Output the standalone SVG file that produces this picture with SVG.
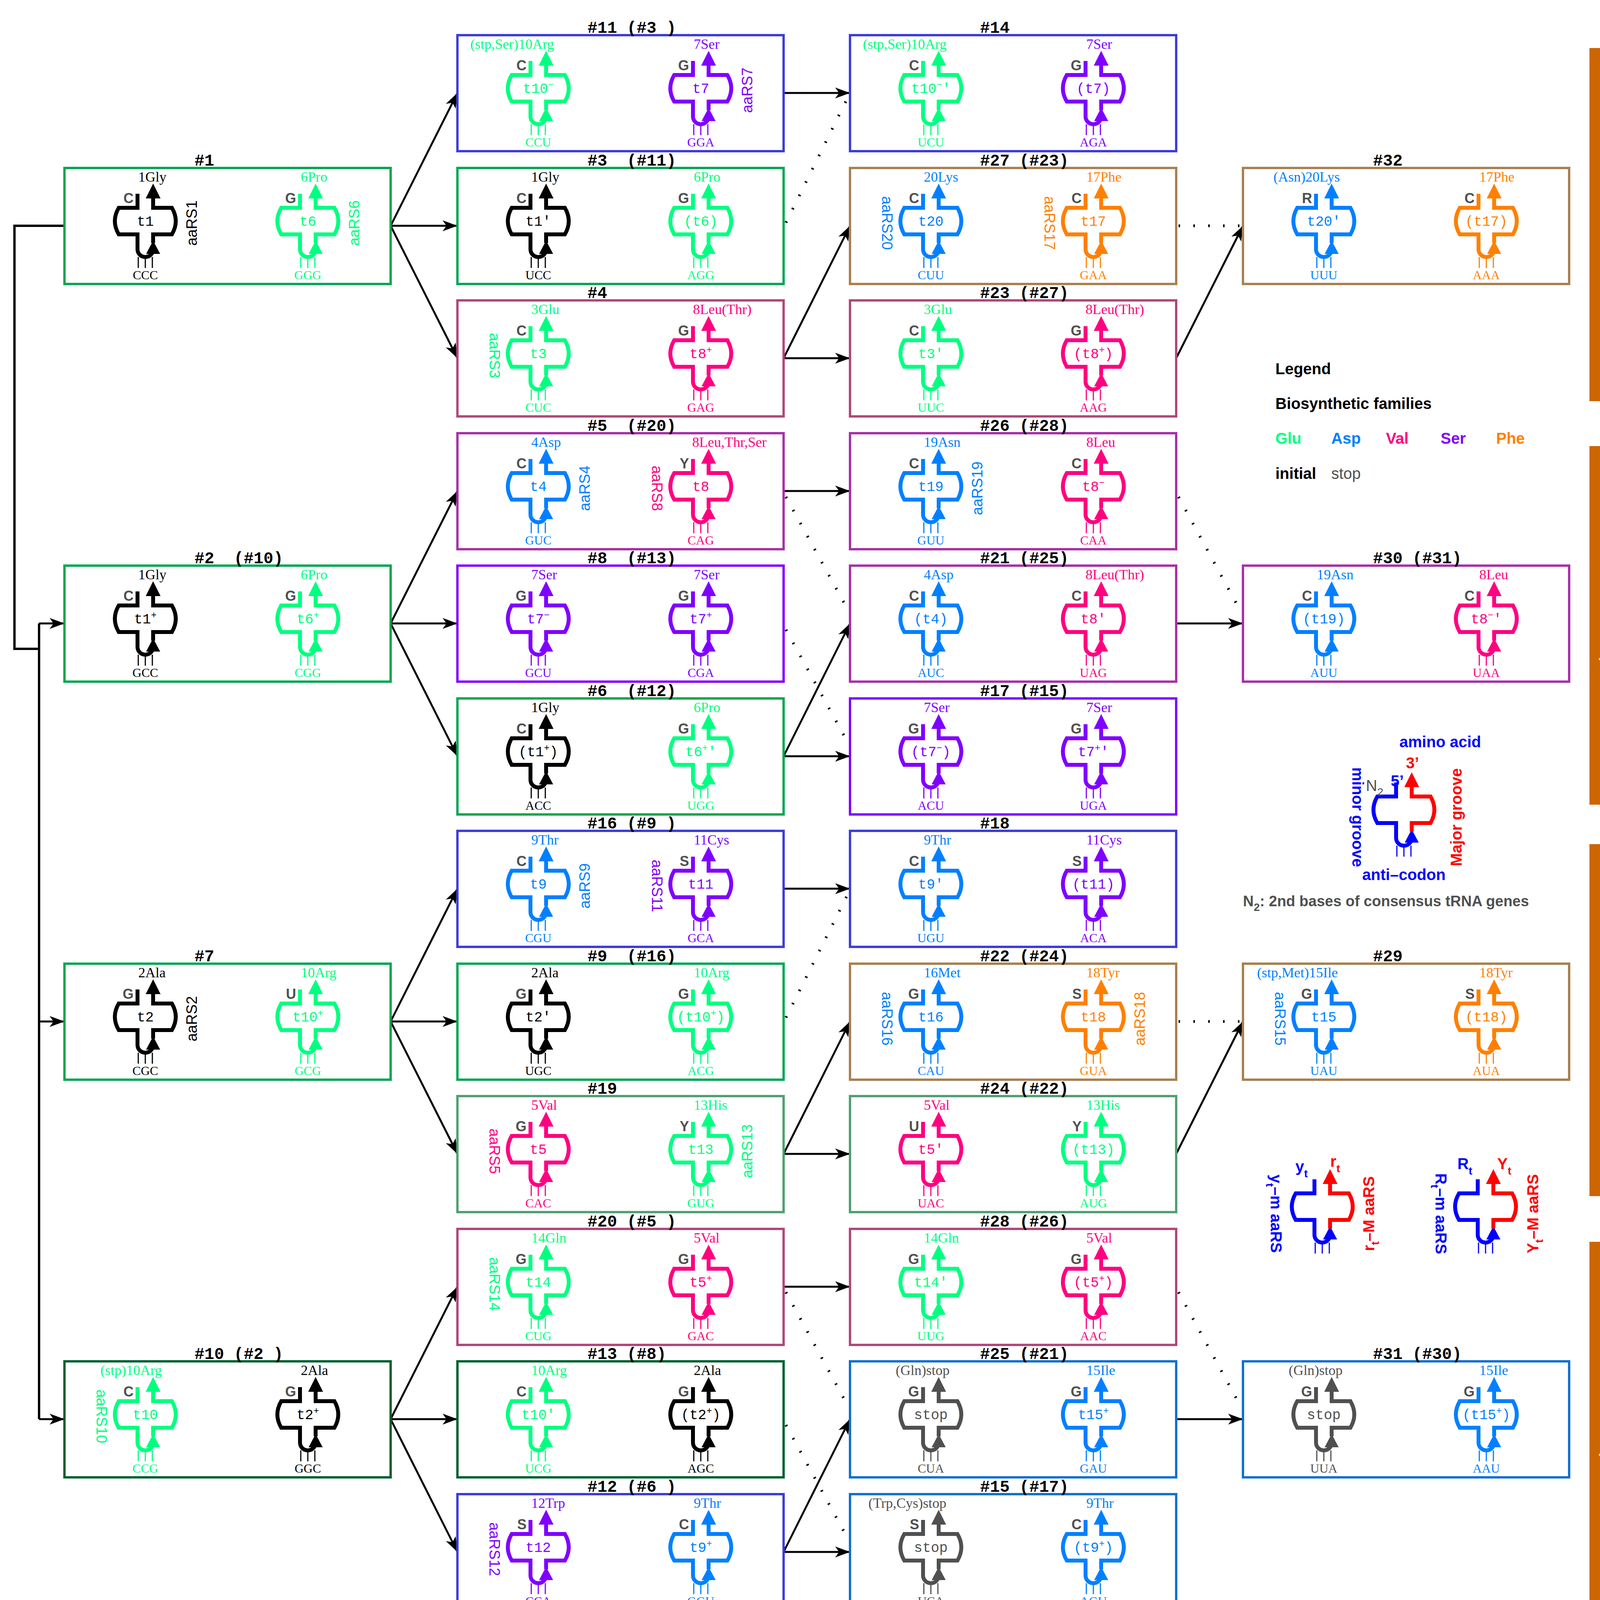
<svg xmlns="http://www.w3.org/2000/svg" xmlns:xlink="http://www.w3.org/1999/xlink" width="4201" height="4386" viewBox="0 0 4201 4386">
<style>
.bx{fill:none;stroke-width:6}
.ti{font-family:"Liberation Mono","DejaVu Sans Mono",monospace;font-weight:bold;font-size:42px;white-space:pre;fill:#000}
.aa{font-family:"Liberation Serif",serif;font-size:36px}
.n2{font-family:"Liberation Sans",sans-serif;font-weight:bold;font-size:36px;fill:#505050;text-anchor:end}
.tl{font-family:"Liberation Mono","DejaVu Sans Mono",monospace;font-size:36px;text-anchor:middle}
.sp{font-size:24px}
.cd{font-family:"Liberation Serif",serif;font-size:32px;text-anchor:middle}
.rs{font-family:"Liberation Sans",sans-serif;font-size:38px;text-anchor:middle}
.K{fill:#000;color:#000}.G{fill:#00ff80;color:#00ff80}.B{fill:#0080ff;color:#0080ff}.V{fill:#8000ff;color:#8000ff}.P{fill:#ff0080;color:#ff0080}.O{fill:#ff8000;color:#ff8000}.S{fill:#505050;color:#505050}
.cn line,.cn path{stroke:#000;stroke-width:5;fill:none}
.cn .a{marker-end:url(#ah)}
.cn .d{stroke-width:7;stroke-dasharray:4 34}
.lg{font-family:"Liberation Sans",sans-serif;font-weight:bold;font-size:40px}
.bar{font-family:"Liberation Sans",sans-serif;font-weight:bold;font-size:56px;fill:#fff;text-anchor:middle}
</style>
<defs>
<marker id="ah" markerUnits="userSpaceOnUse" markerWidth="50" markerHeight="40" refX="40" refY="20" orient="auto" viewBox="0 0 50 40"><path d="M40,20 L2,6 L12,20 L2,34 Z" fill="#000"/></marker>
<g id="gL"><path d="M-20,66 V102 H-68 Q-88,136 -68,170 H-20 V208 A20,20 0 0 0 20,208 V196" fill="none" stroke="currentColor" stroke-width="10"/><polygon points="20,186 2,220 38,220" fill="currentColor"/><path d="M-18,228V256 M0,230V256 M18,228V256" stroke="currentColor" stroke-width="3"/></g>
<g id="gR"><path d="M20,76 V102 H68 Q88,136 68,170 H20 V192" fill="none" stroke="currentColor" stroke-width="10"/><polygon points="20,40 1,78 39,78" fill="currentColor"/></g>
<g id="tr"><use href="#gL"/><use href="#gR"/></g>
</defs>
<rect width="4201" height="4386" fill="#fff"/>

<g class="cn" id="connectors">
<path d="M165,578 H37 V1661 H100" style="stroke-width:6"/>
<path d="M100,1596 V3633" style="stroke-width:6"/>
<line class="a" x1="100" y1="1596" x2="165" y2="1596"/><line class="a" x1="100" y1="2615" x2="165" y2="2615"/><line class="a" x1="100" y1="3633" x2="165" y2="3633"/>
<line class="a" x1="1000" y1="578" x2="1171" y2="238"/><line class="a" x1="1000" y1="578" x2="1171" y2="578"/><line class="a" x1="1000" y1="578" x2="1171" y2="917"/>
<line class="a" x1="1000" y1="1596" x2="1171" y2="1257"/><line class="a" x1="1000" y1="1596" x2="1171" y2="1596"/><line class="a" x1="1000" y1="1596" x2="1171" y2="1936"/>
<line class="a" x1="1000" y1="2615" x2="1171" y2="2275"/><line class="a" x1="1000" y1="2615" x2="1171" y2="2615"/><line class="a" x1="1000" y1="2615" x2="1171" y2="2954"/>
<line class="a" x1="1000" y1="3633" x2="1171" y2="3294"/><line class="a" x1="1000" y1="3633" x2="1171" y2="3633"/><line class="a" x1="1000" y1="3633" x2="1171" y2="3973"/>
<line class="a" x1="2006" y1="238" x2="2176" y2="238"/><line class="a" x1="2006" y1="917" x2="2176" y2="578"/><line class="a" x1="2006" y1="917" x2="2176" y2="917"/>
<line class="a" x1="2006" y1="1257" x2="2176" y2="1257"/><line class="a" x1="2006" y1="1936" x2="2176" y2="1596"/><line class="a" x1="2006" y1="1936" x2="2176" y2="1936"/>
<line class="a" x1="2006" y1="2275" x2="2176" y2="2275"/><line class="a" x1="2006" y1="2954" x2="2176" y2="2615"/><line class="a" x1="2006" y1="2954" x2="2176" y2="2954"/>
<line class="a" x1="2006" y1="3294" x2="2176" y2="3294"/><line class="a" x1="2006" y1="3973" x2="2176" y2="3633"/><line class="a" x1="2006" y1="3973" x2="2176" y2="3973"/>
<line class="d" x1="2012" y1="570" x2="2170" y2="250"/><line class="d" x1="2012" y1="1272" x2="2170" y2="1560"/><line class="d" x1="2012" y1="1612" x2="2170" y2="1900"/>
<line class="d" x1="2012" y1="2605" x2="2170" y2="2290"/><line class="d" x1="2012" y1="3308" x2="2170" y2="3598"/><line class="d" x1="2012" y1="3648" x2="2170" y2="3938"/>
<line class="a" x1="3011" y1="917" x2="3182" y2="578"/><line class="a" x1="3011" y1="1596" x2="3182" y2="1596"/><line class="a" x1="3011" y1="2954" x2="3182" y2="2615"/><line class="a" x1="3011" y1="3633" x2="3182" y2="3633"/>
<line class="d" x1="3017" y1="578" x2="3176" y2="578"/><line class="d" x1="3017" y1="1272" x2="3176" y2="1565"/><line class="d" x1="3017" y1="2615" x2="3176" y2="2615"/><line class="d" x1="3017" y1="3308" x2="3176" y2="3600"/>
</g>

<!-- Column 1 -->
<g id="n1" transform="translate(165,430)"><rect class="bx" width="835" height="297" stroke="#00a650"/><text class="ti" x="333" y="-6">#1</text>
<g class="K" transform="translate(207,0)"><use href="#tr"/><text class="aa" x="-18" y="35">1Gly</text><text class="n2" x="-30" y="90">C</text><text class="tl" y="148">t1</text><text class="cd" y="285">CCC</text><text class="rs" transform="translate(132,141) rotate(-90)">aaRS1</text></g>
<g class="G" transform="translate(623,0)"><use href="#tr"/><text class="aa" x="-18" y="35">6Pro</text><text class="n2" x="-30" y="90">G</text><text class="tl" y="148">t6</text><text class="cd" y="285">GGG</text><text class="rs" transform="translate(132,141) rotate(-90)">aaRS6</text></g></g>

<g id="n2" transform="translate(165,1448)"><rect class="bx" width="835" height="297" stroke="#00a650"/><text class="ti" x="333" y="-6">#2  (#10)</text>
<g class="K" transform="translate(207,0)"><use href="#tr"/><text class="aa" x="-18" y="35">1Gly</text><text class="n2" x="-30" y="90">C</text><text class="tl" y="148">t1<tspan class="sp" dy="-14">+</tspan></text><text class="cd" y="285">GCC</text></g>
<g class="G" transform="translate(623,0)"><use href="#tr"/><text class="aa" x="-18" y="35">6Pro</text><text class="n2" x="-30" y="90">G</text><text class="tl" y="148">t6<tspan class="sp" dy="-14">+</tspan></text><text class="cd" y="285">CGG</text></g></g>

<g id="n7" transform="translate(165,2467)"><rect class="bx" width="835" height="297" stroke="#00a650"/><text class="ti" x="333" y="-6">#7</text>
<g class="K" transform="translate(207,0)"><use href="#tr"/><text class="aa" x="-18" y="35">2Ala</text><text class="n2" x="-30" y="90">G</text><text class="tl" y="148">t2</text><text class="cd" y="285">CGC</text><text class="rs" transform="translate(132,141) rotate(-90)">aaRS2</text></g>
<g class="G" transform="translate(623,0)"><use href="#tr"/><text class="aa" x="-18" y="35">10Arg</text><text class="n2" x="-30" y="90">U</text><text class="tl" y="148">t10<tspan class="sp" dy="-14">+</tspan></text><text class="cd" y="285">GCG</text></g></g>

<g id="n10" transform="translate(165,3485)"><rect class="bx" width="835" height="297" stroke="#006030"/><text class="ti" x="333" y="-6">#10 (#2 )</text>
<g class="G" transform="translate(207,0)"><use href="#tr"/><text class="aa" x="-115" y="35">(stp)10Arg</text><text class="n2" x="-30" y="90">C</text><text class="tl" y="148">t10</text><text class="cd" y="285">CCG</text><text class="rs" transform="translate(-125,141) rotate(90)">aaRS10</text></g>
<g class="K" transform="translate(623,0)"><use href="#tr"/><text class="aa" x="-18" y="35">2Ala</text><text class="n2" x="-30" y="90">G</text><text class="tl" y="148">t2<tspan class="sp" dy="-14">+</tspan></text><text class="cd" y="285">GGC</text></g></g>

<!-- Column 2 -->
<g id="n11" transform="translate(1171,90)"><rect class="bx" width="835" height="297" stroke="#3c3cdc"/><text class="ti" x="333" y="-6">#11 (#3 )</text>
<g class="G" transform="translate(207,0)"><use href="#tr"/><text class="aa" x="-174" y="35">(stp,Ser)10Arg</text><text class="n2" x="-30" y="90">C</text><text class="tl" y="148">t10<tspan class="sp" dy="-14">−</tspan></text><text class="cd" y="285">CCU</text></g>
<g class="V" transform="translate(623,0)"><use href="#tr"/><text class="aa" x="-18" y="35">7Ser</text><text class="n2" x="-30" y="90">G</text><text class="tl" y="148">t7</text><text class="cd" y="285">GGA</text><text class="rs" transform="translate(132,141) rotate(-90)">aaRS7</text></g></g>

<g id="n3" transform="translate(1171,430)"><rect class="bx" width="835" height="297" stroke="#00a650"/><text class="ti" x="333" y="-6">#3  (#11)</text>
<g class="K" transform="translate(207,0)"><use href="#tr"/><text class="aa" x="-18" y="35">1Gly</text><text class="n2" x="-30" y="90">C</text><text class="tl" y="148">t1′</text><text class="cd" y="285">UCC</text></g>
<g class="G" transform="translate(623,0)"><use href="#tr"/><text class="aa" x="-18" y="35">6Pro</text><text class="n2" x="-30" y="90">G</text><text class="tl" y="148">(t6)</text><text class="cd" y="285">AGG</text></g></g>

<g id="n4" transform="translate(1171,769)"><rect class="bx" width="835" height="297" stroke="#b04878"/><text class="ti" x="333" y="-6">#4</text>
<g class="G" transform="translate(207,0)"><use href="#tr"/><text class="aa" x="-18" y="35">3Glu</text><text class="n2" x="-30" y="90">C</text><text class="tl" y="148">t3</text><text class="cd" y="285">CUC</text><text class="rs" transform="translate(-125,141) rotate(90)">aaRS3</text></g>
<g class="P" transform="translate(623,0)"><use href="#tr"/><text class="aa" x="-20" y="35">8Leu(Thr)</text><text class="n2" x="-30" y="90">G</text><text class="tl" y="148">t8<tspan class="sp" dy="-14">+</tspan></text><text class="cd" y="285">GAG</text></g></g>

<g id="n5" transform="translate(1171,1109)"><rect class="bx" width="835" height="297" stroke="#a830a8"/><text class="ti" x="333" y="-6">#5  (#20)</text>
<g class="B" transform="translate(207,0)"><use href="#tr"/><text class="aa" x="-18" y="35">4Asp</text><text class="n2" x="-30" y="90">C</text><text class="tl" y="148">t4</text><text class="cd" y="285">GUC</text><text class="rs" transform="translate(132,141) rotate(-90)">aaRS4</text></g>
<g class="P" transform="translate(623,0)"><use href="#tr"/><text class="aa" x="-22" y="35">8Leu,Thr,Ser</text><text class="n2" x="-30" y="90">Y</text><text class="tl" y="148">t8</text><text class="cd" y="285">CAG</text><text class="rs" transform="translate(-125,141) rotate(90)">aaRS8</text></g></g>

<g id="n8" transform="translate(1171,1448)"><rect class="bx" width="835" height="297" stroke="#8000ff"/><text class="ti" x="333" y="-6">#8  (#13)</text>
<g class="V" transform="translate(207,0)"><use href="#tr"/><text class="aa" x="-18" y="35">7Ser</text><text class="n2" x="-30" y="90">G</text><text class="tl" y="148">t7<tspan class="sp" dy="-14">−</tspan></text><text class="cd" y="285">GCU</text></g>
<g class="V" transform="translate(623,0)"><use href="#tr"/><text class="aa" x="-18" y="35">7Ser</text><text class="n2" x="-30" y="90">G</text><text class="tl" y="148">t7<tspan class="sp" dy="-14">+</tspan></text><text class="cd" y="285">CGA</text></g></g>

<g id="n6" transform="translate(1171,1788)"><rect class="bx" width="835" height="297" stroke="#00a650"/><text class="ti" x="333" y="-6">#6  (#12)</text>
<g class="K" transform="translate(207,0)"><use href="#tr"/><text class="aa" x="-18" y="35">1Gly</text><text class="n2" x="-30" y="90">C</text><text class="tl" y="148">(t1<tspan class="sp" dy="-14">+</tspan><tspan dy="14">)</tspan></text><text class="cd" y="285">ACC</text></g>
<g class="G" transform="translate(623,0)"><use href="#tr"/><text class="aa" x="-18" y="35">6Pro</text><text class="n2" x="-30" y="90">G</text><text class="tl" y="148">t6<tspan class="sp" dy="-14">+</tspan><tspan dy="14">′</tspan></text><text class="cd" y="285">UGG</text></g></g>

<g id="n16" transform="translate(1171,2127)"><rect class="bx" width="835" height="297" stroke="#3c3cdc"/><text class="ti" x="333" y="-6">#16 (#9 )</text>
<g class="B" transform="translate(207,0)"><use href="#tr"/><text class="aa" x="-18" y="35">9Thr</text><text class="n2" x="-30" y="90">C</text><text class="tl" y="148">t9</text><text class="cd" y="285">CGU</text><text class="rs" transform="translate(132,141) rotate(-90)">aaRS9</text></g>
<g class="V" transform="translate(623,0)"><use href="#tr"/><text class="aa" x="-18" y="35">11Cys</text><text class="n2" x="-30" y="90">S</text><text class="tl" y="148">t11</text><text class="cd" y="285">GCA</text><text class="rs" transform="translate(-125,141) rotate(90)">aaRS11</text></g></g>

<g id="n9" transform="translate(1171,2467)"><rect class="bx" width="835" height="297" stroke="#00a650"/><text class="ti" x="333" y="-6">#9  (#16)</text>
<g class="K" transform="translate(207,0)"><use href="#tr"/><text class="aa" x="-18" y="35">2Ala</text><text class="n2" x="-30" y="90">G</text><text class="tl" y="148">t2′</text><text class="cd" y="285">UGC</text></g>
<g class="G" transform="translate(623,0)"><use href="#tr"/><text class="aa" x="-18" y="35">10Arg</text><text class="n2" x="-30" y="90">G</text><text class="tl" y="148">(t10<tspan class="sp" dy="-14">+</tspan><tspan dy="14">)</tspan></text><text class="cd" y="285">ACG</text></g></g>

<g id="n19" transform="translate(1171,2806)"><rect class="bx" width="835" height="297" stroke="#50a070"/><text class="ti" x="333" y="-6">#19</text>
<g class="P" transform="translate(207,0)"><use href="#tr"/><text class="aa" x="-18" y="35">5Val</text><text class="n2" x="-30" y="90">G</text><text class="tl" y="148">t5</text><text class="cd" y="285">CAC</text><text class="rs" transform="translate(-125,141) rotate(90)">aaRS5</text></g>
<g class="G" transform="translate(623,0)"><use href="#tr"/><text class="aa" x="-18" y="35">13His</text><text class="n2" x="-30" y="90">Y</text><text class="tl" y="148">t13</text><text class="cd" y="285">GUG</text><text class="rs" transform="translate(132,141) rotate(-90)">aaRS13</text></g></g>

<g id="n20" transform="translate(1171,3146)"><rect class="bx" width="835" height="297" stroke="#b04878"/><text class="ti" x="333" y="-6">#20 (#5 )</text>
<g class="G" transform="translate(207,0)"><use href="#tr"/><text class="aa" x="-18" y="35">14Gln</text><text class="n2" x="-30" y="90">G</text><text class="tl" y="148">t14</text><text class="cd" y="285">CUG</text><text class="rs" transform="translate(-125,141) rotate(90)">aaRS14</text></g>
<g class="P" transform="translate(623,0)"><use href="#tr"/><text class="aa" x="-18" y="35">5Val</text><text class="n2" x="-30" y="90">G</text><text class="tl" y="148">t5<tspan class="sp" dy="-14">+</tspan></text><text class="cd" y="285">GAC</text></g></g>

<g id="n13" transform="translate(1171,3485)"><rect class="bx" width="835" height="297" stroke="#006030"/><text class="ti" x="333" y="-6">#13 (#8)</text>
<g class="G" transform="translate(207,0)"><use href="#tr"/><text class="aa" x="-18" y="35">10Arg</text><text class="n2" x="-30" y="90">C</text><text class="tl" y="148">t10′</text><text class="cd" y="285">UCG</text></g>
<g class="K" transform="translate(623,0)"><use href="#tr"/><text class="aa" x="-18" y="35">2Ala</text><text class="n2" x="-30" y="90">G</text><text class="tl" y="148">(t2<tspan class="sp" dy="-14">+</tspan><tspan dy="14">)</tspan></text><text class="cd" y="285">AGC</text></g></g>

<g id="n12" transform="translate(1171,3825)"><rect class="bx" width="835" height="297" stroke="#3c3cdc"/><text class="ti" x="333" y="-6">#12 (#6 )</text>
<g class="V" transform="translate(207,0)"><use href="#tr"/><text class="aa" x="-18" y="35">12Trp</text><text class="n2" x="-30" y="90">S</text><text class="tl" y="148">t12</text><text class="cd" y="285">CCA</text><text class="rs" transform="translate(-125,141) rotate(90)">aaRS12</text></g>
<g class="B" transform="translate(623,0)"><use href="#tr"/><text class="aa" x="-18" y="35">9Thr</text><text class="n2" x="-30" y="90">C</text><text class="tl" y="148">t9<tspan class="sp" dy="-14">+</tspan></text><text class="cd" y="285">GGU</text></g></g>

<!-- Column 3 -->
<g id="n14" transform="translate(2176,90)"><rect class="bx" width="835" height="297" stroke="#3c3cdc"/><text class="ti" x="333" y="-6">#14</text>
<g class="G" transform="translate(207,0)"><use href="#tr"/><text class="aa" x="-174" y="35">(stp,Ser)10Arg</text><text class="n2" x="-30" y="90">C</text><text class="tl" y="148">t10<tspan class="sp" dy="-14">−</tspan><tspan dy="14">′</tspan></text><text class="cd" y="285">UCU</text></g>
<g class="V" transform="translate(623,0)"><use href="#tr"/><text class="aa" x="-18" y="35">7Ser</text><text class="n2" x="-30" y="90">G</text><text class="tl" y="148">(t7)</text><text class="cd" y="285">AGA</text></g></g>

<g id="n27" transform="translate(2176,430)"><rect class="bx" width="835" height="297" stroke="#a88050"/><text class="ti" x="333" y="-6">#27 (#23)</text>
<g class="B" transform="translate(207,0)"><use href="#tr"/><text class="aa" x="-18" y="35">20Lys</text><text class="n2" x="-30" y="90">C</text><text class="tl" y="148">t20</text><text class="cd" y="285">CUU</text><text class="rs" transform="translate(-125,141) rotate(90)">aaRS20</text></g>
<g class="O" transform="translate(623,0)"><use href="#tr"/><text class="aa" x="-18" y="35">17Phe</text><text class="n2" x="-30" y="90">C</text><text class="tl" y="148">t17</text><text class="cd" y="285">GAA</text><text class="rs" transform="translate(-125,141) rotate(90)">aaRS17</text></g></g>

<g id="n23" transform="translate(2176,769)"><rect class="bx" width="835" height="297" stroke="#b04878"/><text class="ti" x="333" y="-6">#23 (#27)</text>
<g class="G" transform="translate(207,0)"><use href="#tr"/><text class="aa" x="-18" y="35">3Glu</text><text class="n2" x="-30" y="90">C</text><text class="tl" y="148">t3′</text><text class="cd" y="285">UUC</text></g>
<g class="P" transform="translate(623,0)"><use href="#tr"/><text class="aa" x="-20" y="35">8Leu(Thr)</text><text class="n2" x="-30" y="90">G</text><text class="tl" y="148">(t8<tspan class="sp" dy="-14">+</tspan><tspan dy="14">)</tspan></text><text class="cd" y="285">AAG</text></g></g>

<g id="n26" transform="translate(2176,1109)"><rect class="bx" width="835" height="297" stroke="#a830a8"/><text class="ti" x="333" y="-6">#26 (#28)</text>
<g class="B" transform="translate(207,0)"><use href="#tr"/><text class="aa" x="-18" y="35">19Asn</text><text class="n2" x="-30" y="90">C</text><text class="tl" y="148">t19</text><text class="cd" y="285">GUU</text><text class="rs" transform="translate(132,141) rotate(-90)">aaRS19</text></g>
<g class="P" transform="translate(623,0)"><use href="#tr"/><text class="aa" x="-18" y="35">8Leu</text><text class="n2" x="-30" y="90">C</text><text class="tl" y="148">t8<tspan class="sp" dy="-14">−</tspan></text><text class="cd" y="285">CAA</text></g></g>

<g id="n21" transform="translate(2176,1448)"><rect class="bx" width="835" height="297" stroke="#a830a8"/><text class="ti" x="333" y="-6">#21 (#25)</text>
<g class="B" transform="translate(207,0)"><use href="#tr"/><text class="aa" x="-18" y="35">4Asp</text><text class="n2" x="-30" y="90">C</text><text class="tl" y="148">(t4)</text><text class="cd" y="285">AUC</text></g>
<g class="P" transform="translate(623,0)"><use href="#tr"/><text class="aa" x="-20" y="35">8Leu(Thr)</text><text class="n2" x="-30" y="90">C</text><text class="tl" y="148">t8′</text><text class="cd" y="285">UAG</text></g></g>

<g id="n17" transform="translate(2176,1788)"><rect class="bx" width="835" height="297" stroke="#8000ff"/><text class="ti" x="333" y="-6">#17 (#15)</text>
<g class="V" transform="translate(207,0)"><use href="#tr"/><text class="aa" x="-18" y="35">7Ser</text><text class="n2" x="-30" y="90">G</text><text class="tl" y="148">(t7<tspan class="sp" dy="-14">−</tspan><tspan dy="14">)</tspan></text><text class="cd" y="285">ACU</text></g>
<g class="V" transform="translate(623,0)"><use href="#tr"/><text class="aa" x="-18" y="35">7Ser</text><text class="n2" x="-30" y="90">G</text><text class="tl" y="148">t7<tspan class="sp" dy="-14">+</tspan><tspan dy="14">′</tspan></text><text class="cd" y="285">UGA</text></g></g>

<g id="n18" transform="translate(2176,2127)"><rect class="bx" width="835" height="297" stroke="#3c3cdc"/><text class="ti" x="333" y="-6">#18</text>
<g class="B" transform="translate(207,0)"><use href="#tr"/><text class="aa" x="-18" y="35">9Thr</text><text class="n2" x="-30" y="90">C</text><text class="tl" y="148">t9′</text><text class="cd" y="285">UGU</text></g>
<g class="V" transform="translate(623,0)"><use href="#tr"/><text class="aa" x="-18" y="35">11Cys</text><text class="n2" x="-30" y="90">S</text><text class="tl" y="148">(t11)</text><text class="cd" y="285">ACA</text></g></g>

<g id="n22" transform="translate(2176,2467)"><rect class="bx" width="835" height="297" stroke="#a88050"/><text class="ti" x="333" y="-6">#22 (#24)</text>
<g class="B" transform="translate(207,0)"><use href="#tr"/><text class="aa" x="-18" y="35">16Met</text><text class="n2" x="-30" y="90">G</text><text class="tl" y="148">t16</text><text class="cd" y="285">CAU</text><text class="rs" transform="translate(-125,141) rotate(90)">aaRS16</text></g>
<g class="O" transform="translate(623,0)"><use href="#tr"/><text class="aa" x="-18" y="35">18Tyr</text><text class="n2" x="-30" y="90">S</text><text class="tl" y="148">t18</text><text class="cd" y="285">GUA</text><text class="rs" transform="translate(132,141) rotate(-90)">aaRS18</text></g></g>

<g id="n24" transform="translate(2176,2806)"><rect class="bx" width="835" height="297" stroke="#50a070"/><text class="ti" x="333" y="-6">#24 (#22)</text>
<g class="P" transform="translate(207,0)"><use href="#tr"/><text class="aa" x="-18" y="35">5Val</text><text class="n2" x="-30" y="90">U</text><text class="tl" y="148">t5′</text><text class="cd" y="285">UAC</text></g>
<g class="G" transform="translate(623,0)"><use href="#tr"/><text class="aa" x="-18" y="35">13His</text><text class="n2" x="-30" y="90">Y</text><text class="tl" y="148">(t13)</text><text class="cd" y="285">AUG</text></g></g>

<g id="n28" transform="translate(2176,3146)"><rect class="bx" width="835" height="297" stroke="#b04878"/><text class="ti" x="333" y="-6">#28 (#26)</text>
<g class="G" transform="translate(207,0)"><use href="#tr"/><text class="aa" x="-18" y="35">14Gln</text><text class="n2" x="-30" y="90">G</text><text class="tl" y="148">t14′</text><text class="cd" y="285">UUG</text></g>
<g class="P" transform="translate(623,0)"><use href="#tr"/><text class="aa" x="-18" y="35">5Val</text><text class="n2" x="-30" y="90">G</text><text class="tl" y="148">(t5<tspan class="sp" dy="-14">+</tspan><tspan dy="14">)</tspan></text><text class="cd" y="285">AAC</text></g></g>

<g id="n25" transform="translate(2176,3485)"><rect class="bx" width="835" height="297" stroke="#1070d0"/><text class="ti" x="333" y="-6">#25 (#21)</text>
<g class="S" transform="translate(207,0)"><use href="#tr"/><text class="aa" x="-90" y="35">(Gln)stop</text><text class="n2" x="-30" y="90">G</text><text class="tl" y="148">stop</text><text class="cd" y="285">CUA</text></g>
<g class="B" transform="translate(623,0)"><use href="#tr"/><text class="aa" x="-18" y="35">15Ile</text><text class="n2" x="-30" y="90">G</text><text class="tl" y="148">t15<tspan class="sp" dy="-14">+</tspan></text><text class="cd" y="285">GAU</text></g></g>

<g id="n15" transform="translate(2176,3825)"><rect class="bx" width="835" height="297" stroke="#1070d0"/><text class="ti" x="333" y="-6">#15 (#17)</text>
<g class="S" transform="translate(207,0)"><use href="#tr"/><text class="aa" x="-160" y="35">(Trp,Cys)stop</text><text class="n2" x="-30" y="90">S</text><text class="tl" y="148">stop</text><text class="cd" y="285">UCA</text></g>
<g class="B" transform="translate(623,0)"><use href="#tr"/><text class="aa" x="-18" y="35">9Thr</text><text class="n2" x="-30" y="90">C</text><text class="tl" y="148">(t9<tspan class="sp" dy="-14">+</tspan><tspan dy="14">)</tspan></text><text class="cd" y="285">AGU</text></g></g>

<!-- Column 4 -->
<g id="n32" transform="translate(3182,430)"><rect class="bx" width="835" height="297" stroke="#a88050"/><text class="ti" x="333" y="-6">#32</text>
<g class="B" transform="translate(207,0)"><use href="#tr"/><text class="aa" x="-129" y="35">(Asn)20Lys</text><text class="n2" x="-30" y="90">R</text><text class="tl" y="148">t20′</text><text class="cd" y="285">UUU</text></g>
<g class="O" transform="translate(623,0)"><use href="#tr"/><text class="aa" x="-18" y="35">17Phe</text><text class="n2" x="-30" y="90">C</text><text class="tl" y="148">(t17)</text><text class="cd" y="285">AAA</text></g></g>

<g id="n30" transform="translate(3182,1448)"><rect class="bx" width="835" height="297" stroke="#a830a8"/><text class="ti" x="333" y="-6">#30 (#31)</text>
<g class="B" transform="translate(207,0)"><use href="#tr"/><text class="aa" x="-18" y="35">19Asn</text><text class="n2" x="-30" y="90">C</text><text class="tl" y="148">(t19)</text><text class="cd" y="285">AUU</text></g>
<g class="P" transform="translate(623,0)"><use href="#tr"/><text class="aa" x="-18" y="35">8Leu</text><text class="n2" x="-30" y="90">C</text><text class="tl" y="148">t8<tspan class="sp" dy="-14">−</tspan><tspan dy="14">′</tspan></text><text class="cd" y="285">UAA</text></g></g>

<g id="n29" transform="translate(3182,2467)"><rect class="bx" width="835" height="297" stroke="#a88050"/><text class="ti" x="333" y="-6">#29</text>
<g class="B" transform="translate(207,0)"><use href="#tr"/><text class="aa" x="-171" y="35">(stp,Met)15Ile</text><text class="n2" x="-30" y="90">G</text><text class="tl" y="148">t15</text><text class="cd" y="285">UAU</text><text class="rs" transform="translate(-125,141) rotate(90)">aaRS15</text></g>
<g class="O" transform="translate(623,0)"><use href="#tr"/><text class="aa" x="-18" y="35">18Tyr</text><text class="n2" x="-30" y="90">S</text><text class="tl" y="148">(t18)</text><text class="cd" y="285">AUA</text></g></g>

<g id="n31" transform="translate(3182,3485)"><rect class="bx" width="835" height="297" stroke="#1070d0"/><text class="ti" x="333" y="-6">#31 (#30)</text>
<g class="S" transform="translate(207,0)"><use href="#tr"/><text class="aa" x="-90" y="35">(Gln)stop</text><text class="n2" x="-30" y="90">G</text><text class="tl" y="148">stop</text><text class="cd" y="285">UUA</text></g>
<g class="B" transform="translate(623,0)"><use href="#tr"/><text class="aa" x="-18" y="35">15Ile</text><text class="n2" x="-30" y="90">G</text><text class="tl" y="148">(t15<tspan class="sp" dy="-14">+</tspan><tspan dy="14">)</tspan></text><text class="cd" y="285">AAU</text></g></g>

<!-- Legend -->
<g id="legend" class="lg">
<text x="3265" y="958" fill="#000">Legend</text>
<text x="3265" y="1047" fill="#000">Biosynthetic families</text>
<text x="3265" y="1136" fill="#00ff80">Glu</text><text x="3408" y="1136" fill="#0080ff">Asp</text><text x="3548" y="1136" fill="#ff0080">Val</text><text x="3688" y="1136" fill="#8000ff">Ser</text><text x="3830" y="1136" fill="#ff8000">Phe</text>
<text x="3265" y="1226" fill="#000">initial</text><text x="3408" y="1226" fill="#505050" font-weight="normal">stop</text>
</g>
<g id="legend-trna" class="lg">
<g transform="translate(3594,1937)"><use href="#gL" style="color:#0000ff"/><use href="#gR" style="color:#ff0000"/></g>
<text x="3687" y="1913" fill="#0000ff" text-anchor="middle">amino acid</text>
<text x="3616" y="1967" fill="#ff0000" text-anchor="middle">3’</text>
<text x="3577" y="2013" fill="#0000ff" text-anchor="middle">5’</text>
<text x="3519" y="2025" fill="#505050" font-weight="normal" text-anchor="middle">N<tspan font-size="28" dy="12">2</tspan></text>
<text transform="translate(3462,2092) rotate(90)" fill="#0000ff" text-anchor="middle">minor groove</text>
<text transform="translate(3742,2092) rotate(-90)" fill="#ff0000" text-anchor="middle">Major groove</text>
<text x="3594" y="2253" fill="#0000ff" text-anchor="middle">anti–codon</text>
<text x="3182" y="2320" fill="#505050" font-size="38">N<tspan font-size="28" dy="12">2</tspan><tspan dy="-12">: 2nd bases of consensus tRNA genes</tspan></text>
</g>
<g id="legend-groove" class="lg">
<g transform="translate(3385,2953)"><use href="#gL" style="color:#0000ff"/><use href="#gR" style="color:#ff0000"/></g>
<text x="3332" y="3000" fill="#0000ff" text-anchor="middle">y<tspan font-size="28" dy="14">t</tspan></text>
<text x="3418" y="2987" fill="#ff0000" text-anchor="middle">r<tspan font-size="28" dy="14">t</tspan></text>
<text transform="translate(3253,3107) rotate(90)" fill="#0000ff" text-anchor="middle">y<tspan font-size="28" dy="12">t</tspan><tspan dy="-12">–m  aaRS</tspan></text>
<text transform="translate(3518,3107) rotate(-90)" fill="#ff0000" text-anchor="middle">r<tspan font-size="28" dy="12">t</tspan><tspan dy="-12">–M  aaRS</tspan></text>
<g transform="translate(3803,2953)"><use href="#gL" style="color:#0000ff"/><use href="#gR" style="color:#ff0000"/></g>
<text x="3750" y="2993" fill="#0000ff" text-anchor="middle">R<tspan font-size="28" dy="14">t</tspan></text>
<text x="3851" y="2993" fill="#ff0000" text-anchor="middle">Y<tspan font-size="28" dy="14">t</tspan></text>
<text transform="translate(3675,3107) rotate(90)" fill="#0000ff" text-anchor="middle">R<tspan font-size="28" dy="12">t</tspan><tspan dy="-12">–m  aaRS</tspan></text>
<text transform="translate(3938,3107) rotate(-90)" fill="#ff0000" text-anchor="middle">Y<tspan font-size="28" dy="12">t</tspan><tspan dy="-12">–M  aaRS</tspan></text>
</g>

<!-- Route bars -->
<g id="routes">
<rect x="4069" y="123" width="104" height="904" fill="#cc6600"/><text class="bar" transform="translate(4102,575) rotate(90)">Route 0</text>
<rect x="4069" y="1142" width="104" height="918" fill="#cc6600"/><text class="bar" transform="translate(4102,1601) rotate(90)">Route 1,3</text>
<rect x="4069" y="2161" width="104" height="901" fill="#cc6600"/><text class="bar" transform="translate(4102,2611) rotate(90)">Route 2</text>
<rect x="4069" y="3179" width="104" height="918" fill="#cc6600"/><text class="bar" transform="translate(4102,3638) rotate(90)">Route 3,1</text>
</g>
<g id="hierarchy">
<rect x="182" y="4131" width="804" height="103" fill="#66cc00"/><text class="bar" x="584" y="4202">Hierarchy 1</text>
<rect x="1188" y="4131" width="803" height="103" fill="#66cc00"/><text class="bar" x="1590" y="4202">Hierarchy 2</text>
<rect x="2193" y="4131" width="804" height="103" fill="#66cc00"/><text class="bar" x="2595" y="4202">Hierarchy 3</text>
<rect x="3198" y="4131" width="804" height="103" fill="#66cc00"/><text class="bar" x="3600" y="4202">Hierarchy 4</text>
</g>
<text x="2078" y="4350" font-family="Liberation Serif,serif" font-size="64" font-weight="bold" text-anchor="middle">(c)</text>
</svg>
